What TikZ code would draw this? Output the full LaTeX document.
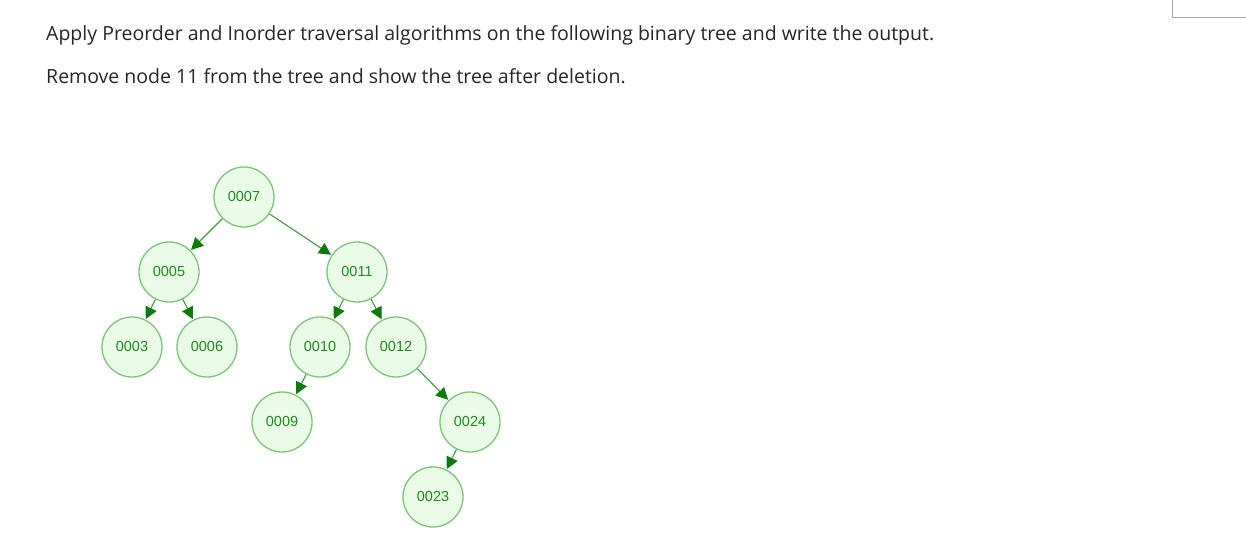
\documentclass[tikz,border=0pt]{standalone}
\usepackage{fontspec}
\setmainfont{Open Sans}
\newfontfamily\nodefont{Liberation Sans}
\usetikzlibrary{arrows.meta}
\definecolor{nfill}{HTML}{EAFBE7}
\definecolor{ndraw}{HTML}{7CC477}
\definecolor{ntext}{HTML}{1E8A1E}
\definecolor{edge}{HTML}{3C9A3C}
\definecolor{tip}{HTML}{0E7A0E}
\tikzset{
  tn/.style={circle,minimum size=60pt,inner sep=0pt,fill=nfill,draw=ndraw,line width=1.3pt,text=ntext,font=\nodefont\fontsize{14.5}{16}\selectfont},
  ed/.style={draw=edge,line width=1.1pt,-{Triangle[length=12pt,width=12pt,fill=tip,color=tip]},shorten >=0.5pt},
  txt/.style={anchor=base west,inner sep=0pt,font=\fontsize{19.5}{22}\selectfont,text=black!85}
}
\begin{document}
\begin{tikzpicture}[x=1pt,y=-1pt]
\useasboundingbox (0,0) rectangle (1246,554);
\fill[white] (0,0) rectangle (1246,554);
\draw[gray!70,line width=1pt] (1172.5,0) -- (1172.5,17) -- (1246,17);
\node[txt] (t1) at (46,40) {Apply Preorder and Inorder traversal algorithms on the following binary tree and write the output.};
\node[txt] (t2) at (46,83) {Remove node 11 from the tree and show the tree after deletion.};
\node[tn] (n7) at (244,197) {0007};
\node[tn] (n5) at (169,272) {0005};
\node[tn] (n11) at (357,272) {0011};
\node[tn] (n3) at (132,347) {0003};
\node[tn] (n6) at (207,347) {0006};
\node[tn] (n10) at (320,347) {0010};
\node[tn] (n12) at (396,347) {0012};
\node[tn] (n9) at (282,422) {0009};
\node[tn] (n24) at (470,422) {0024};
\node[tn] (n23) at (433,497) {0023};
\draw[ed] (n7) -- (n5);
\draw[ed] (n7) -- (n11);
\draw[ed] (n5) -- (n3);
\draw[ed] (n5) -- (n6);
\draw[ed] (n11) -- (n10);
\draw[ed] (n11) -- (n12);
\draw[ed] (n10) -- (n9);
\draw[ed] (n12) -- (n24);
\draw[ed] (n24) -- (n23);
\end{tikzpicture}
\end{document}
